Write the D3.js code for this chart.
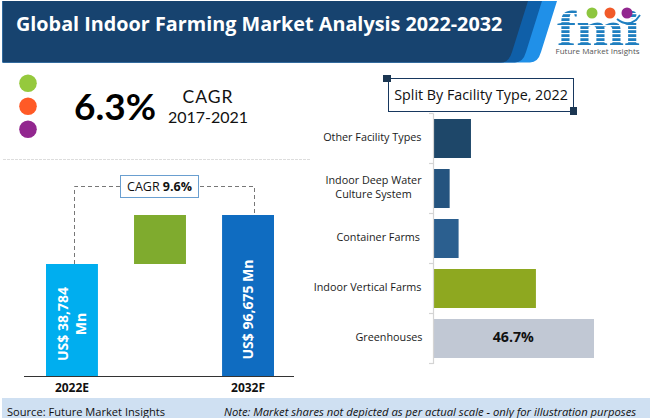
<!DOCTYPE html>
<html>
<head>
<meta charset="utf-8">
<title>Global Indoor Farming Market Analysis</title>
<script src="https://cdn.jsdelivr.net/npm/d3@7"></script>
<style>
    html, body { margin: 0; padding: 0; background: #fff; overflow: hidden; }
    svg { display: block; }
    text { font-family: "Open Sans", "Noto Sans", sans-serif; fill: #111; }
</style>
</head>
<body>
<svg width="650" height="418"></svg>
<script>
    // Left chart: market value, the picture is not to scale
    var vYears = ['2022E', 'gap', '2032F'];
    var vMarket = [38784, 96675];
    var vMarketLabels = [['US$ 38,784', 'Mn'], ['US$ 96,675 Mn']];

    // Right chart: split by facility type (%)
    var vTypes = ['Other Facility Types', 'Indoor Deep Water Culture System', 'Container Farms', 'Indoor Vertical Farms', 'Greenhouses'];
    var vShares = [10.9, 4.7, 7.3, 29.8, 46.7];
    var vShareColors = ['#1e4769', '#25547f', '#2b5f8f', '#8ea820', '#c1c8d4'];

    var svg = d3.select('svg');

    // Header band
    svg.append('path').attr('d', 'M2.5,1 L557,1 L541,52 Q538,62.5 530,62.5 L2.5,62.5 Z').attr('fill', '#2090e8');
    svg.append('path').attr('d', 'M2.5,1 L542,1 L526,52 Q523,62.5 515,62.5 L2.5,62.5 Z').attr('fill', '#0f5fa8');
    svg.append('path').attr('d', 'M2.5,1 L528,1 L512,52 Q509,62.5 501,62.5 L2.5,62.5 Z').attr('fill', '#17436f');
    svg.append('text').attr('x', 16).attr('y', 31).attr('font-size', 19.8).attr('font-weight', 700)
        .style('fill', '#fff').text('Global Indoor Farming Market Analysis 2022-2032');

    // Logo
    var logo = svg.append('g');
    logo.append('text').attr('x', 557).attr('y', 45).attr('font-size', 49).attr('font-weight', 700)
        .attr('textLength', 83).attr('lengthAdjust', 'spacingAndGlyphs')
        .style('font-family', '"Liberation Serif", serif').style('fill', '#1f7fc0').text('fmi');
    d3.range(13, 46, 4).forEach(function (y) {
        logo.append('rect').attr('x', 554).attr('y', y).attr('width', 90).attr('height', 1.2).attr('fill', '#fff');
    });
    logo.selectAll('circle').data([[592, '#8dc63f'], [610, '#f15a29'], [627, '#92278f']]).enter().append('circle')
        .attr('cx', function (d) { return d[0]; }).attr('cy', 13).attr('r', 5.5)
        .attr('fill', function (d) { return d[1]; });
    logo.append('path').attr('d', 'M617,19 Q627,27 636,20 L640,15').attr('fill', 'none').attr('stroke', '#1f7fc0').attr('stroke-width', 2);
    logo.append('text').attr('x', 555.5).attr('y', 54).attr('font-size', 8).style('fill', '#555').text('Future Market Insights');

    // Dots and CAGR block
    svg.selectAll('circle.dot').data(['#95c93d', '#ff5a26', '#92278f']).enter().append('circle')
        .attr('class', 'dot').attr('cx', 28).attr('cy', function (d, i) { return 83.3 + i * 23; }).attr('r', 8.8)
        .attr('fill', function (d) { return d; });
    svg.append('text').attr('x', 74).attr('y', 120).attr('font-size', 37).attr('font-weight', 700)
        .style('font-family', 'Lato, sans-serif').style('fill', '#000').text('6.3%');
    svg.append('text').attr('x', 208).attr('y', 103).attr('font-size', 17.5).attr('letter-spacing', 1)
        .attr('text-anchor', 'middle').style('font-family', 'Lato, sans-serif').text('CAGR');
    svg.append('text').attr('x', 208).attr('y', 123).attr('font-size', 16)
        .attr('text-anchor', 'middle').style('font-family', 'Lato, sans-serif').text('2017-2021');
    svg.append('line').attr('x1', 3).attr('x2', 310).attr('y1', 159.5).attr('y2', 159.5)
        .attr('stroke', '#ddd').attr('stroke-dasharray', '3,1');

    // Left chart
    var vBase = 376;
    var x = d3.scaleBand().domain(vYears).range([46, 274]).paddingInner(0.41).paddingOuter(0);
    var y = d3.scaleLinear().domain(vMarket).range([264, 215]);

    svg.append('path').attr('d', 'M74.5,264 V186.5 H254.5 V215').attr('fill', 'none')
        .attr('stroke', '#777').attr('stroke-dasharray', '4,3');
    svg.append('rect').attr('x', 120.5).attr('y', 175.5).attr('width', 78).attr('height', 22)
        .attr('fill', '#fff').attr('stroke', '#6a9fd0');
    var vCagr = svg.append('text').attr('x', 159.5).attr('y', 190.5).attr('font-size', 12.5).attr('text-anchor', 'middle');
    vCagr.append('tspan').text('CAGR ');
    vCagr.append('tspan').attr('font-weight', 700).text('9.6%');

    var vBars = [
        {year: vYears[0], top: vMarket[0], bottom: null, color: '#00aeef', label: vMarketLabels[0], shift: 4},
        {year: vYears[1], top: vMarket[1], bottom: vMarket[0], color: '#7fab2e', label: [], shift: 0},
        {year: vYears[2], top: vMarket[1], bottom: null, color: '#0f6cc1', label: vMarketLabels[1], shift: 14}
    ];
    svg.selectAll('rect.market').data(vBars).enter().append('rect')
        .attr('class', 'market')
        .attr('x', function (d) { return x(d.year); })
        .attr('y', function (d) { return y(d.top); })
        .attr('width', x.bandwidth())
        .attr('height', function (d) { return (d.bottom === null ? vBase : y(d.bottom)) - y(d.top); })
        .attr('fill', function (d) { return d.color; });

    vBars.forEach(function (d) {
        var cx = x(d.year) + x.bandwidth() / 2;
        d.label.forEach(function (line, i) {
            var offset = (i - (d.label.length - 1) / 2) * 18;
            var py = (y(d.top) + vBase) / 2 + d.shift;
            svg.append('text')
                .attr('transform', 'translate(' + (cx + offset + 5) + ',' + py + ') rotate(-90)')
                .attr('text-anchor', 'middle').attr('font-size', 14).attr('font-weight', 700)
                .style('fill', '#fff').text(line);
        });
    });

    var vAxisX = d3.axisBottom(x).tickSize(0).tickFormat(function (d) { return d === 'gap' ? '' : d; });
    var gx = svg.append('g').attr('transform', 'translate(0,' + vBase + ')').call(vAxisX);
    gx.select('.domain').attr('d', 'M24,0.5 H294').attr('stroke', '#333').attr('stroke-width', 1);
    gx.selectAll('text').attr('font-size', 12).attr('font-weight', 700).attr('y', 6).attr('dy', '0.8em')
        .style('font-family', '"Open Sans", sans-serif').style('fill', '#111');

    // Right chart
    var vAxisLeft = 433.5;
    var xShare = d3.scaleLinear().domain([0, 46.7]).range([vAxisLeft, 594]);
    var yType = d3.scaleBand().domain(vTypes).range([113.5, 363.5]).paddingInner(0.22).paddingOuter(0.11);

    svg.selectAll('rect.share').data(vShares).enter().append('rect')
        .attr('class', 'share')
        .attr('x', vAxisLeft + 0.5)
        .attr('y', function (d, i) { return yType(vTypes[i]); })
        .attr('width', function (d) { return xShare(d) - vAxisLeft - 0.5; })
        .attr('height', yType.bandwidth())
        .attr('fill', function (d, i) { return vShareColors[i]; });

    // tick marks sit between the bars
    var vTickY = d3.range(vTypes.length + 1).map(function (i) { return 113.5 + i * yType.step(); });
    svg.append('line').attr('x1', vAxisLeft).attr('x2', vAxisLeft).attr('y1', 113.5).attr('y2', 364)
        .attr('stroke', '#d4d4d4').attr('stroke-width', 1.2);
    svg.selectAll('line.tick').data(vTickY).enter().append('line')
        .attr('class', 'tick').attr('x1', 429).attr('x2', vAxisLeft)
        .attr('y1', function (d) { return d; }).attr('y2', function (d) { return d; })
        .attr('stroke', '#d4d4d4').attr('stroke-width', 1.2);

    var vLines = [['Other Facility Types'], ['Indoor Deep Water', 'Culture System'], ['Container Farms'], ['Indoor Vertical Farms'], ['Greenhouses']];
    var vRightEdge = [421.5, 373.5, 420, 421.5, 422.5];
    vLines.forEach(function (lines, i) {
        var cy = yType(vTypes[i]) + yType.bandwidth() / 2;
        lines.forEach(function (line, j) {
            svg.append('text').attr('x', vRightEdge[i])
                .attr('y', cy + (j - (lines.length - 1) / 2) * 14.5 + 2.5)
                .attr('text-anchor', lines.length > 1 ? 'middle' : 'end')
                .attr('font-size', 10.8).style('fill', '#1a1a1a').text(line);
        });
    });

    svg.append('text').attr('x', (xShare(46.7) + vAxisLeft) / 2 - 0.5).attr('y', yType(vTypes[4]) + 22.5)
        .attr('text-anchor', 'middle').attr('font-size', 14.2).attr('font-weight', 700)
        .text(d3.format('.1f')(vShares[4]) + '%');

    // Chart title box
    svg.append('rect').attr('x', 388.5).attr('y', 78.5).attr('width', 185).attr('height', 33)
        .attr('fill', '#fff').attr('stroke', '#17375e');
    svg.append('rect').attr('x', 383).attr('y', 75).attr('width', 8).attr('height', 7).attr('fill', '#1b3652');
    svg.append('rect').attr('x', 570).attr('y', 107).attr('width', 7).attr('height', 8).attr('fill', '#1b3652');
    svg.append('text').attr('x', 481).attr('y', 100).attr('text-anchor', 'middle').attr('font-size', 14.3)
        .text('Split By Facility Type, 2022');

    // Footer
    svg.append('rect').attr('x', 2).attr('y', 398).attr('width', 648).attr('height', 20).attr('fill', '#cfe0f2');
    svg.append('text').attr('x', 7).attr('y', 416).attr('font-size', 11.1).text('Source: Future Market Insights');
    svg.append('text').attr('x', 224).attr('y', 416).attr('font-size', 11.26).attr('font-style', 'italic')
        .text('Note: Market shares not depicted as per actual scale - only for illustration purposes');
</script>
</body>
</html>
